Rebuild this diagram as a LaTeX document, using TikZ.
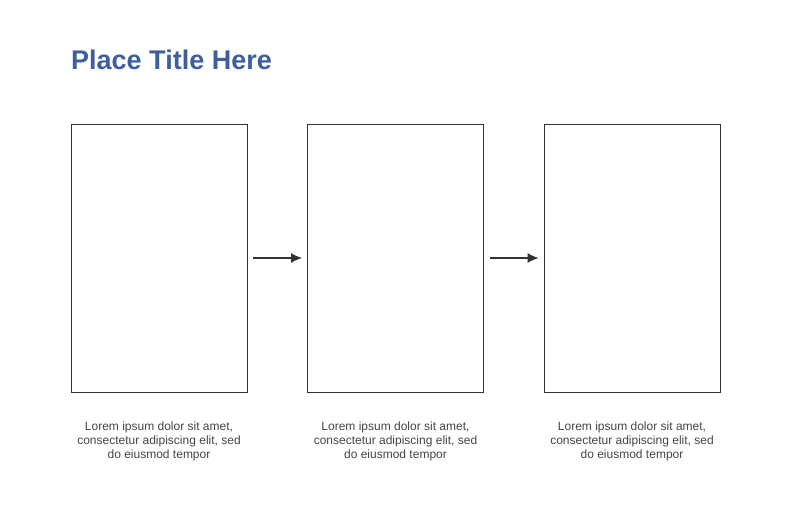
\documentclass[tikz,border=0pt]{standalone}
\usepackage{fontspec}
\setmainfont{Liberation Sans}
\usepackage{tikz}
\usetikzlibrary{arrows.meta}

\definecolor{titleblue}{HTML}{3F5E9C}
\definecolor{boxline}{HTML}{333333}
\definecolor{captiongray}{HTML}{444444}

\tikzset{
    panel/.style={draw=boxline, line width=0.9pt, rectangle, minimum width=176pt, minimum height=268pt},
    caption/.style={align=center, text=captiongray, font=\fontsize{12}{14}\selectfont},
    flow/.style={-{Latex[length=11pt, width=10pt]}, draw=boxline, line width=1.1pt, shorten <=6pt, shorten >=5pt}
}

\begin{document}
\begin{tikzpicture}[x=1pt, y=-1pt, node distance=236.5pt]
    \useasboundingbox (0,0) rectangle (792,504);
    \node (title) [anchor=base west, inner sep=0pt, text=titleblue, font=\fontsize{27}{30}\selectfont\bfseries] at (71,69) {Place Title Here};

    \node (first) [panel] at (159,258) {};
    \node (second) [panel, right of=first] {};
    \node (third) [panel, right of=second] {};

    \node (capfirst) [caption, below of=first, node distance=183pt] {Lorem ipsum dolor sit amet,\\consectetur adipiscing elit, sed\\do eiusmod tempor};
    \node (capsecond) [caption, below of=second, node distance=183pt] {Lorem ipsum dolor sit amet,\\consectetur adipiscing elit, sed\\do eiusmod tempor};
    \node (capthird) [caption, below of=third, node distance=183pt] {Lorem ipsum dolor sit amet,\\consectetur adipiscing elit, sed\\do eiusmod tempor};

    \draw[flow] (first) -- (second);
    \draw[flow] (second) -- (third);
\end{tikzpicture}
\end{document}
